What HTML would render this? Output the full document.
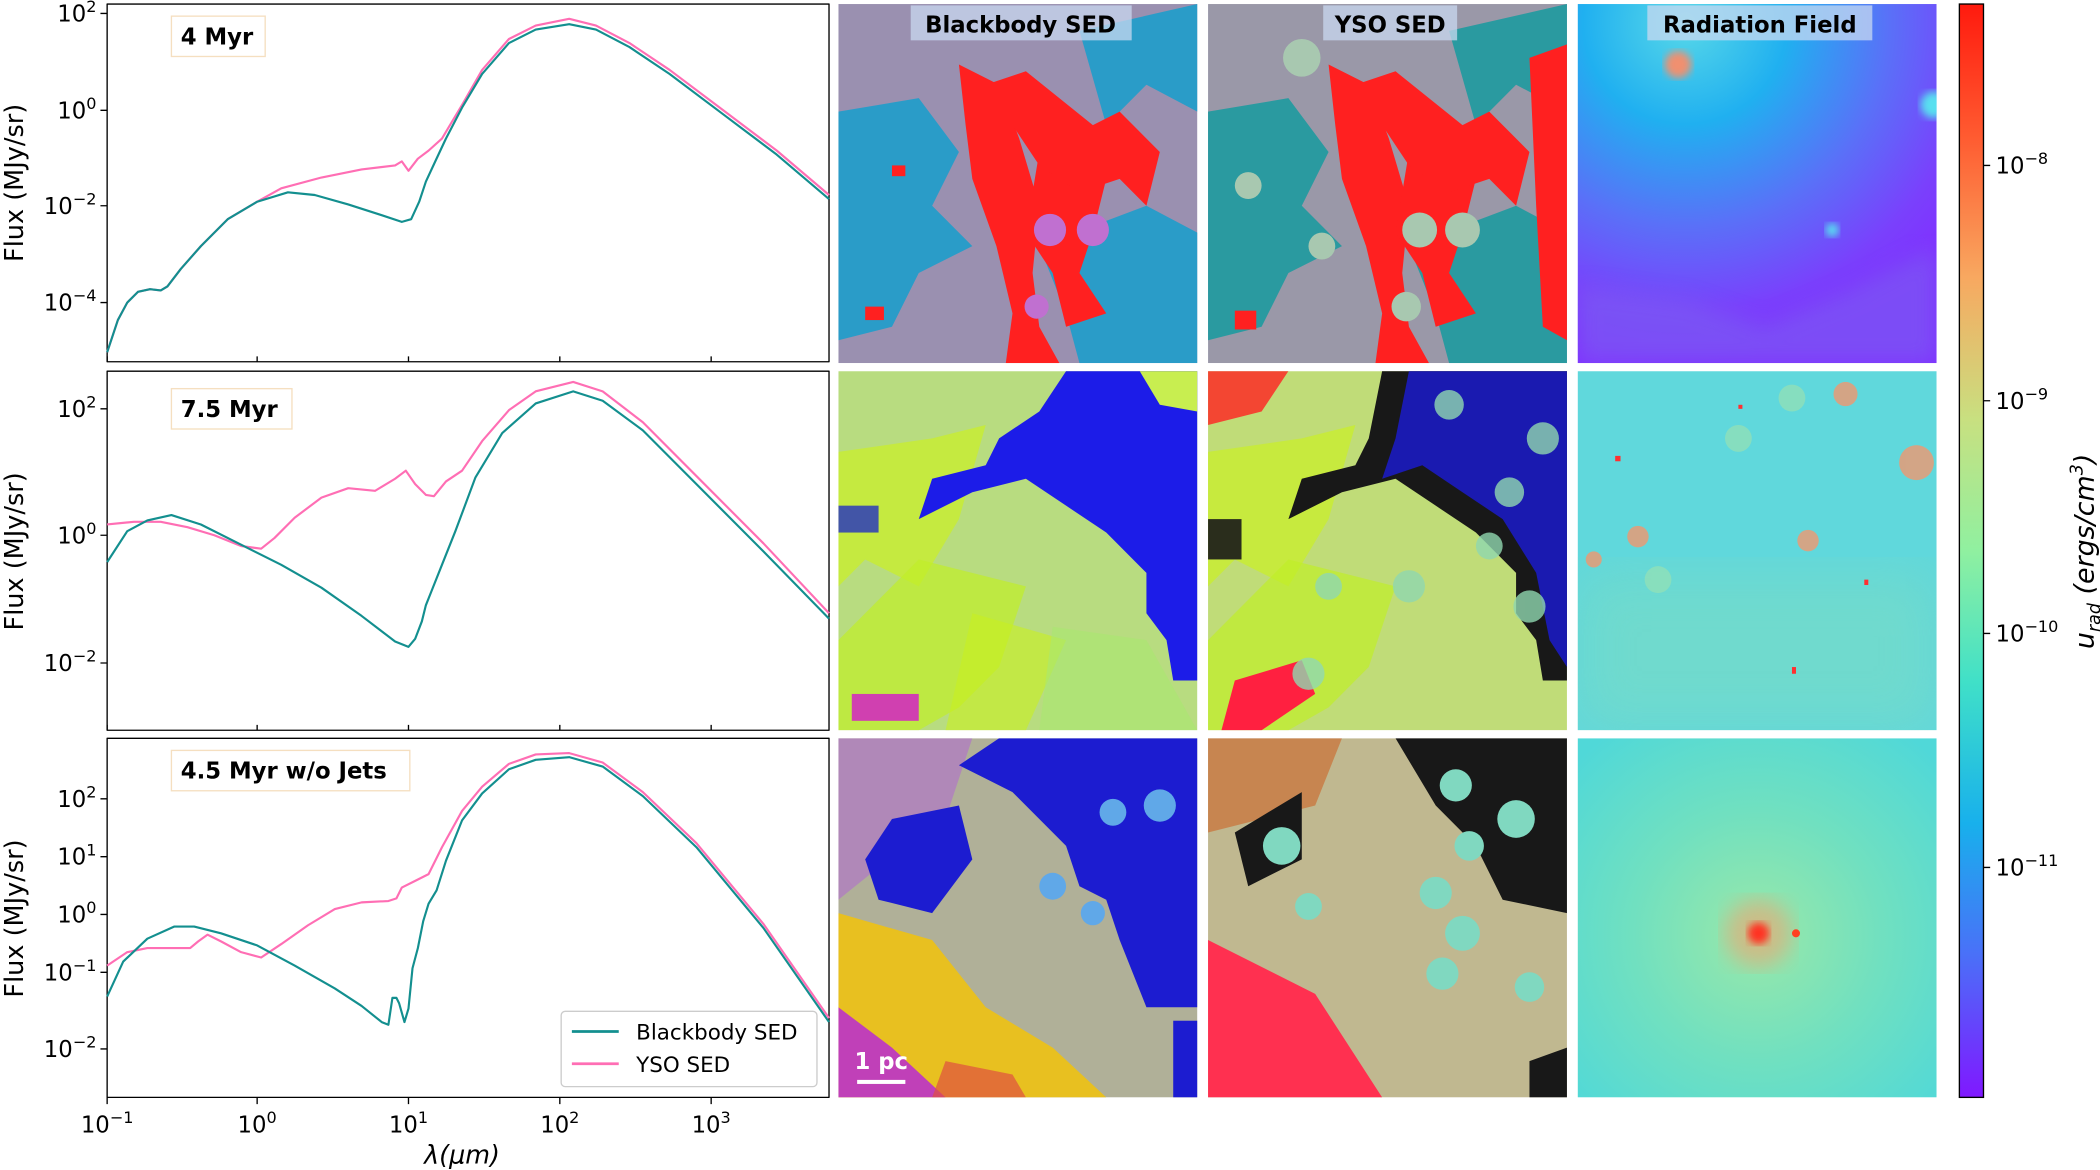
<!DOCTYPE html>
<html><head><meta charset="utf-8"><style>
html,body{margin:0;padding:0;background:#fff;}
svg{display:block;}
text{font-family:"DejaVu Sans","Liberation Sans",sans-serif;}
</style></head><body>
<svg width="2100" height="1170" viewBox="0 0 1568 870" preserveAspectRatio="none" xmlns="http://www.w3.org/2000/svg">
<defs>
<filter id="b3"><feGaussianBlur stdDeviation="3"/></filter>
<filter id="b8"><feGaussianBlur stdDeviation="8"/></filter>
<filter id="b20"><feGaussianBlur stdDeviation="20"/></filter>
<linearGradient id="cb" x1="0" y1="0" x2="0" y2="1">
<stop offset="0" stop-color="#ff1a0e"/><stop offset="0.12" stop-color="#ff5a30"/>
<stop offset="0.25" stop-color="#f8a860"/><stop offset="0.38" stop-color="#c8e080"/>
<stop offset="0.5" stop-color="#90f0a0"/><stop offset="0.62" stop-color="#40e0c8"/>
<stop offset="0.75" stop-color="#18b0ec"/><stop offset="0.87" stop-color="#4a70f8"/>
<stop offset="1" stop-color="#8018ff"/></linearGradient>
<radialGradient id="rf1" cx="0.3" cy="0.05" r="0.95"><stop offset="0" stop-color="#58d8e8"/><stop offset="0.3" stop-color="#20b0f0"/><stop offset="0.6" stop-color="#5a70f8"/><stop offset="0.85" stop-color="#7a40fc"/><stop offset="1" stop-color="#8030ff"/></radialGradient>
<radialGradient id="rf3" cx="0.5" cy="0.55" r="0.7"><stop offset="0" stop-color="#9ae8a8"/><stop offset="0.5" stop-color="#70e0c0"/><stop offset="1" stop-color="#50d8d8"/></radialGradient>
<clipPath id="c"><rect x="0" y="0" width="268" height="267"/></clipPath>
</defs>

<!-- ===== Left plots ===== -->
<g fill="none" stroke-width="1.6" stroke-linejoin="round">
<rect x="80" y="3" width="539" height="266" stroke="#000" stroke-width="1"/>
<polyline stroke="#ff6eb4" points="80,262 88,238 95,225 103,217 112,215 120,216 125,213 135,200 150,183 170,163 192,150 210,140 240,132 270,126 295,123 300,120 305,127 312,118 320,112 330,103 345,78 360,52 380,29 400,19 425,14 445,19 470,32 500,52 540,82 580,112 619,145"/>
<polyline stroke="#138f8f" points="80,262 88,238 95,225 103,217 112,215 120,216 125,213 135,200 150,183 170,163 192,150 215,143 235,145 260,152 285,160 300,165 307,163 313,150 318,135 325,120 333,103 345,80 360,55 380,32 400,22 425,18 445,22 470,35 500,55 540,85 580,115 619,148"/>
<rect x="80" y="276" width="539" height="267" stroke="#000" stroke-width="1"/>
<polyline stroke="#ff6eb4" points="80,390 100,388 120,388 140,392 160,398 180,406 195,408 205,400 220,385 240,370 260,363 280,365 295,356 303,350 310,360 318,368 324,369 333,358 345,350 360,328 380,305 400,291 428,284 450,291 480,314 520,354 570,404 619,456"/>
<polyline stroke="#138f8f" points="80,418 95,395 110,387 128,383 150,390 180,405 210,420 240,437 270,458 295,477 305,481 310,475 315,462 318,450 322,440 330,420 340,395 355,355 375,322 400,300 428,291 450,298 480,320 520,360 570,410 619,460"/>
<rect x="80" y="549" width="539" height="267" stroke="#000" stroke-width="1"/>
<polyline stroke="#ff6eb4" points="80,718 95,708 110,705 130,705 142,705 148,700 155,695 165,700 180,708 195,712 210,702 230,688 250,676 270,671 290,670 296,668 300,660 310,655 320,650 330,630 345,603 360,585 380,568 400,561 425,560 450,567 480,589 520,627 570,687 619,757"/>
<polyline stroke="#138f8f" points="80,741 92,715 110,698 130,689 145,689 165,694 192,703 220,718 250,735 270,748 285,760 290,762 293,742 296,742 298,746 302,760 305,750 308,720 312,705 316,685 320,672 326,662 333,640 345,610 360,590 380,572 400,565 425,563 450,570 480,592 520,630 570,690 619,760"/>
</g>

<g stroke="#000" stroke-width="1">
<path d="M80,10h-5M80,82h-5M80,153h-5M80,225h-5M80,304h-5M80,398h-5M80,493h-5M80,594h-5M80,637h-5M80,680h-5M80,723h-5M80,780h-5"/>
<path d="M80,816v5M192,816v5M305,816v5M418,816v5M531,816v5"/>
<path d="M80,269v-4M192,269v-4M305,269v-4M418,269v-4M531,269v-4M80,543v-4M192,543v-4M305,543v-4M418,543v-4M531,543v-4"/>
</g>
<g font-size="17" fill="#000" text-anchor="end">
<text x="72" y="16">10<tspan dy="-7" font-size="12">2</tspan></text>
<text x="72" y="88">10<tspan dy="-7" font-size="12">0</tspan></text>
<text x="72" y="159">10<tspan dy="-7" font-size="12">−2</tspan></text>
<text x="72" y="231">10<tspan dy="-7" font-size="12">−4</tspan></text>
<text x="72" y="310">10<tspan dy="-7" font-size="12">2</tspan></text>
<text x="72" y="404">10<tspan dy="-7" font-size="12">0</tspan></text>
<text x="72" y="499">10<tspan dy="-7" font-size="12">−2</tspan></text>
<text x="72" y="600">10<tspan dy="-7" font-size="12">2</tspan></text>
<text x="72" y="643">10<tspan dy="-7" font-size="12">1</tspan></text>
<text x="72" y="686">10<tspan dy="-7" font-size="12">0</tspan></text>
<text x="72" y="729">10<tspan dy="-7" font-size="12">−1</tspan></text>
<text x="72" y="786">10<tspan dy="-7" font-size="12">−2</tspan></text>
</g>
<g font-size="17" fill="#000" text-anchor="middle">
<text x="80" y="842">10<tspan dy="-7" font-size="12">−1</tspan></text>
<text x="192" y="842">10<tspan dy="-7" font-size="12">0</tspan></text>
<text x="305" y="842">10<tspan dy="-7" font-size="12">1</tspan></text>
<text x="418" y="842">10<tspan dy="-7" font-size="12">2</tspan></text>
<text x="531" y="842">10<tspan dy="-7" font-size="12">3</tspan></text>
<text x="345" y="865" font-size="19" font-style="italic">λ(μm)</text>
<text transform="translate(17,136) rotate(-90)" font-size="19">Flux (MJy/sr)</text>
<text transform="translate(17,410) rotate(-90)" font-size="19">Flux (MJy/sr)</text>
<text transform="translate(17,683) rotate(-90)" font-size="19">Flux (MJy/sr)</text>
</g>
<g font-size="17" font-weight="bold" fill="#000">
<rect x="128" y="12" width="70" height="30" fill="#fff" stroke="#f5dfc0"/><text x="135" y="33">4 Myr</text>
<rect x="128" y="289" width="90" height="30" fill="#fff" stroke="#f5dfc0"/><text x="135" y="310">7.5 Myr</text>
<rect x="128" y="558" width="178" height="30" fill="#fff" stroke="#f5dfc0"/><text x="135" y="579">4.5 Myr w/o Jets</text>
</g>
<rect x="419" y="752" width="191" height="56" rx="3" fill="#fff" stroke="#ccc"/>
<line x1="427" y1="767" x2="462" y2="767" stroke="#138f8f" stroke-width="2"/>
<line x1="427" y1="791" x2="462" y2="791" stroke="#ff6eb4" stroke-width="2"/>
<text x="475" y="773" font-size="16">Blackbody SED</text>
<text x="475" y="797" font-size="16">YSO SED</text>

<!-- ===== Row1 images ===== -->
<g transform="translate(626,3)" clip-path="url(#c)">
<rect width="268" height="267" fill="#9a90b0"/>
<path d="M0,80 L60,70 90,110 70,150 100,180 60,200 40,240 0,250Z" fill="#2a9cc8"/>
<path d="M150,180 L230,150 268,170 268,267 180,267 170,230Z" fill="#2a9cc8"/>
<path d="M180,20 L268,0 268,80 230,60 200,90Z" fill="#2a9cc8"/>
<path d="M90,45 L120,60 135,100 150,150 145,200 150,240 165,267 125,267 130,230 118,180 100,130 95,90Z" fill="#ff2020"/>
<path d="M150,110 L180,100 200,130 190,170 180,200 200,230 170,240 160,200 140,170Z" fill="#ff2020"/>
<path d="M110,60 L140,50 190,90 210,80 240,110 230,150 210,130 180,140 150,120Z" fill="#ff2020"/>
<circle cx="158" cy="168" r="12" fill="#c070d0"/><circle cx="190" cy="168" r="12" fill="#c070d0"/>
<circle cx="148" cy="225" r="9" fill="#c070d0"/>
<rect x="20" y="225" width="14" height="10" fill="#ff2020"/><rect x="40" y="120" width="10" height="8" fill="#ff2020"/>
</g>
<g transform="translate(902,3)" clip-path="url(#c)">
<rect width="268" height="267" fill="#9a98a8"/>
<path d="M0,80 L60,70 90,110 70,150 100,180 60,200 40,240 0,250Z" fill="#2a9aa0"/>
<path d="M150,180 L230,150 268,170 268,267 180,267 170,230Z" fill="#2a9aa0"/>
<path d="M180,20 L268,0 268,80 230,60 200,90Z" fill="#2a9aa0"/>
<path d="M90,45 L120,60 135,100 150,150 145,200 150,240 165,267 125,267 130,230 118,180 100,130 95,90Z" fill="#ff2020"/>
<path d="M150,110 L180,100 200,130 190,170 180,200 200,230 170,240 160,200 140,170Z" fill="#ff2020"/>
<path d="M110,60 L140,50 190,90 210,80 240,110 230,150 210,130 180,140 150,120Z" fill="#ff2020"/>
<path d="M240,40 L268,30 268,250 250,240 245,150Z" fill="#ff2020"/>
<g fill="#a8c8b0"><circle cx="158" cy="168" r="13"/><circle cx="190" cy="168" r="13"/><circle cx="148" cy="225" r="11"/><circle cx="70" cy="40" r="14"/><circle cx="85" cy="180" r="10"/><circle cx="30" cy="135" r="10"/></g>
<rect x="20" y="228" width="16" height="14" fill="#ff2020"/>
</g>
<g transform="translate(1178,3)" clip-path="url(#c)">
<rect width="268" height="267" fill="url(#rf1)"/>
<path d="M0,210 L80,220 140,240 200,215 268,180 268,267 0,267Z" fill="#7a60f0" opacity="0.6" filter="url(#b8)"/>
<circle cx="75" cy="45" r="10" fill="#f09070" filter="url(#b3)"/>
<circle cx="190" cy="168" r="5" fill="#58e0f0" filter="url(#b3)"/>
<circle cx="266" cy="75" r="10" fill="#58e0f0" filter="url(#b3)"/>
</g>

<!-- ===== Row2 images ===== -->
<g transform="translate(626,276)" clip-path="url(#c)">
<rect width="268" height="267" fill="#b8dc80"/>
<path d="M0,60 L70,50 110,40 90,110 60,160 20,140 0,160Z" fill="#c8ee30" opacity="0.8"/>
<path d="M60,140 L140,160 120,220 90,250 60,267 0,267 0,200Z" fill="#c0ee28" opacity="0.7"/>
<path d="M100,180 L170,200 140,267 80,267Z" fill="#c8f020" opacity="0.6"/>
<path d="M160,190 L230,200 268,267 150,267Z" fill="#a8e870" opacity="0.6"/>
<path d="M170,0 L268,0 268,230 250,230 245,200 230,180 230,150 200,120 170,100 140,80 100,90 60,110 70,80 110,70 120,50 150,30Z" fill="#1c1ce8"/>
<path d="M225,0 L268,0 268,30 240,25Z" fill="#c8ee50"/>
<rect x="10" y="240" width="50" height="20" fill="#d040b0"/>
<rect x="0" y="100" width="30" height="20" fill="#2030c0" opacity="0.8"/>
</g>
<g transform="translate(902,276)" clip-path="url(#c)">
<rect width="268" height="267" fill="#c0dc78"/>
<path d="M0,60 L70,50 110,40 90,110 60,160 20,140 0,160Z" fill="#c8ee30" opacity="0.8"/>
<path d="M60,140 L140,160 120,220 90,250 60,267 0,267 0,200Z" fill="#c0ee28" opacity="0.7"/>
<path d="M130,0 L268,0 268,230 250,230 245,200 230,180 230,150 200,120 170,100 140,80 100,90 60,110 70,80 110,70 120,50Z" fill="#181818"/>
<path d="M150,0 L268,0 268,220 255,200 245,150 220,110 190,90 160,70 130,80 140,50Z" fill="#1a1ab0"/>
<path d="M0,0 L60,0 40,30 0,40Z" fill="#ff2020" opacity="0.8"/>
<path d="M20,230 L70,215 80,240 40,267 10,267Z" fill="#ff2040"/>
<g fill="#90d8b0" opacity="0.8"><circle cx="180" cy="25" r="11"/><circle cx="250" cy="50" r="12"/><circle cx="225" cy="90" r="11"/><circle cx="210" cy="130" r="10"/><circle cx="150" cy="160" r="12"/><circle cx="90" cy="160" r="10"/><circle cx="240" cy="175" r="12"/><circle cx="75" cy="225" r="12"/></g>
<rect x="0" y="110" width="25" height="30" fill="#181818" opacity="0.9"/>
</g>
<g transform="translate(1178,276)" clip-path="url(#c)">
<rect width="268" height="267" fill="#60d8dc"/>
<rect x="0" y="150" width="268" height="117" fill="#80dcc0" opacity="0.5" filter="url(#b20)"/>
<g fill="#f09870" opacity="0.8"><circle cx="200" cy="17" r="9"/><circle cx="253" cy="68" r="13"/><circle cx="45" cy="123" r="8"/><circle cx="12" cy="140" r="6"/><circle cx="172" cy="126" r="8"/></g>
<g fill="#90e0b8" opacity="0.8"><circle cx="120" cy="50" r="10"/><circle cx="160" cy="20" r="10"/><circle cx="60" cy="155" r="10"/></g>
<g fill="#ff3030"><rect x="160" y="220" width="3" height="5"/><rect x="214" y="155" width="3" height="4"/><rect x="28" y="63" width="4" height="4"/><rect x="120" y="25" width="3" height="3"/></g>
</g>

<!-- ===== Row3 images ===== -->
<g transform="translate(626,549)" clip-path="url(#c)">
<rect width="268" height="267" fill="#b0b098"/>
<path d="M0,0 L100,0 80,60 50,80 0,120Z" fill="#b088b8"/>
<path d="M0,130 L70,150 110,200 160,230 200,267 0,267Z" fill="#e8c020"/>
<path d="M0,200 L40,230 80,267 0,267Z" fill="#c040b8"/>
<path d="M80,240 L130,250 140,267 70,267Z" fill="#e05040" opacity="0.7"/>
<path d="M120,0 L268,0 268,200 230,200 210,150 200,120 180,110 170,80 150,60 130,40 110,30 90,20Z" fill="#1c1cd0"/>
<path d="M40,60 L90,50 100,90 70,130 30,120 20,90Z" fill="#1c1cd0"/>
<g fill="#60a8e8"><circle cx="240" cy="50" r="12"/><circle cx="205" cy="55" r="10"/><circle cx="160" cy="110" r="10"/><circle cx="190" cy="130" r="9"/></g>
<rect x="250" y="210" width="18" height="57" fill="#1c1cd0"/>
</g>
<g transform="translate(902,549)" clip-path="url(#c)">
<rect width="268" height="267" fill="#c0b890"/>
<path d="M0,0 L100,0 80,50 0,70Z" fill="#c87840" opacity="0.8"/>
<path d="M0,150 L80,190 130,267 0,267Z" fill="#ff3050"/>
<path d="M140,0 L268,0 268,130 220,120 200,80 170,50Z" fill="#181818"/>
<path d="M20,70 L70,40 70,90 30,110Z" fill="#181818"/>
<path d="M240,240 L268,230 268,267 240,267Z" fill="#181818"/>
<g fill="#80d8c0"><circle cx="185" cy="35" r="12"/><circle cx="230" cy="60" r="14"/><circle cx="195" cy="80" r="11"/><circle cx="170" cy="115" r="12"/><circle cx="190" cy="145" r="13"/><circle cx="175" cy="175" r="12"/><circle cx="55" cy="80" r="14"/><circle cx="75" cy="125" r="10"/><circle cx="240" cy="185" r="11"/></g>
</g>
<g transform="translate(1178,549)" clip-path="url(#c)">
<rect width="268" height="267" fill="url(#rf3)"/>
<circle cx="135" cy="145" r="25" fill="#f0a070" opacity="0.6" filter="url(#b8)"/>
<circle cx="135" cy="145" r="8" fill="#ff3020" filter="url(#b3)"/>
<circle cx="163" cy="145" r="3" fill="#ff4020"/>
</g>
<text x="638" y="795" font-size="17" font-weight="bold" fill="#fff">1 pc</text>
<rect x="640" y="803" width="36" height="3" fill="#fff"/>

<g font-size="17" font-weight="bold" text-anchor="middle" fill="#000">
<rect x="680" y="4" width="165" height="26" fill="#c8d8f0" opacity="0.75"/><text x="762" y="24">Blackbody SED</text>
<rect x="988" y="4" width="100" height="26" fill="#c8d8f0" opacity="0.75"/><text x="1038" y="24">YSO SED</text>
<rect x="1230" y="4" width="168" height="26" fill="#c8d8f0" opacity="0.75"/><text x="1314" y="24">Radiation Field</text>
</g>

<rect x="1463" y="3" width="18" height="813" fill="url(#cb)" stroke="#000" stroke-width="1"/>
<g stroke="#000"><path d="M1481,123h5M1481,298h5M1481,471h5M1481,645h5"/></g>
<g font-size="17" fill="#000">
<text x="1490" y="129">10<tspan dy="-7" font-size="12">−8</tspan></text>
<text x="1490" y="304">10<tspan dy="-7" font-size="12">−9</tspan></text>
<text x="1490" y="477">10<tspan dy="-7" font-size="12">−10</tspan></text>
<text x="1490" y="651">10<tspan dy="-7" font-size="12">−11</tspan></text>
<text transform="translate(1563,410) rotate(-90)" font-size="20" font-style="italic" text-anchor="middle">u<tspan font-size="13" dy="5">rad</tspan><tspan dy="-5"> (ergs/cm</tspan><tspan font-size="13" dy="-8">3</tspan><tspan dy="8">)</tspan></text>
</g>
</svg>
</body></html>
